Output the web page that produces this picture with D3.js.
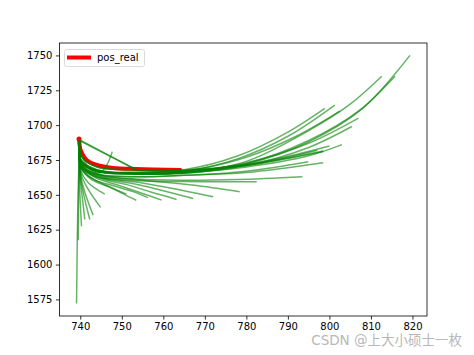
<!DOCTYPE html>
<html><head><meta charset="utf-8">
<script src="https://cdn.jsdelivr.net/npm/d3@7/dist/d3.min.js"></script>
<style>body{margin:0;background:#fff}svg{display:block}</style>
</head><body>
<svg id="c" width="474" height="355"></svg>
<script>
// ---- data ----
const xTicks = [740, 750, 760, 770, 780, 790, 800, 810, 820];
const yTicks = [1575, 1600, 1625, 1650, 1675, 1700, 1725, 1750];
const xLimits = [735, 823.5];
const yLimits = [1563.1, 1758.9];

const realX = [739.7, 740.1, 741.1, 742.3, 744.7, 747.9, 753.5, 764.4];
const realY = [1690, 1682, 1676.5, 1673.3, 1670.9, 1669.3, 1668.5, 1667.8];

// predicted trajectories (green), each a list of [x, y]
const predUp = [
  [[739.8,1688],[740.2,1675],[744,1668],[752,1665.5],[765,1665.5],[780,1672],[795,1688],[808,1712],[819.4,1750]],
  [[739.8,1688],[740.2,1675],[744,1668],[752,1665.5],[765,1666],[780,1672.5],[795,1689],[807,1710],[815.8,1735]],
  [[739.8,1688],[740.2,1674],[744,1667],[752,1665],[765,1666],[780,1674],[795,1696],[805,1715],[812.6,1735]],
  [[739.8,1688],[740.2,1674],[744,1667.5],[752,1665.5],[765,1667],[778,1676],[790,1692],[801.3,1714.4]],
  [[739.8,1688],[740.2,1674],[744,1667.5],[752,1666],[765,1668],[778,1678],[790,1695],[798.9,1712]],
  [[739.8,1688],[740.2,1674],[744,1667],[752,1665.5],[765,1667],[780,1677],[792,1692],[802.5,1710]],
  [[739.8,1688],[740.2,1674],[744,1667],[752,1665],[765,1666],[780,1673],[795,1687],[807,1705]],
  [[739.8,1688],[740.2,1674],[744,1667],[752,1665],[765,1665.5],[780,1671],[795,1684],[805.4,1699]],
  [[739.8,1688],[740.2,1673],[744,1666.5],[752,1665],[765,1666],[780,1670],[795,1678],[803,1686]],
  [[739.8,1688],[740.2,1673],[744,1667],[752,1666],[765,1667],[780,1672],[792,1679],[800,1685]],
  [[739.8,1689],[740.2,1678],[744,1670],[752,1668],[765,1667.5],[780,1671],[790,1676],[798.5,1681]],
  [[739.8,1689],[740.2,1678],[744,1670],[752,1668],[765,1667.8],[780,1671.5],[790,1676.5],[798.5,1681.5]],
  [[739.8,1688],[740.2,1674],[744,1667],[752,1666],[765,1667],[780,1671],[797.1,1682]],
  [[739.8,1688],[740.2,1672],[744,1665],[752,1663],[765,1664],[780,1666],[798.5,1673]],
  [[739.8,1688],[740.2,1672],[744,1665],[752,1663],[765,1664],[780,1667],[794.9,1673.7]],
  [[739.8,1688],[740.2,1671],[744,1664],[752,1661.5],[765,1660.5],[778,1661],[793.5,1663]],
  [[739.8,1688],[740.2,1670],[744,1663],[752,1660.5],[765,1659.5],[782.5,1659.4]]
];
const predDown = [
  [[739.8,1688],[740.3,1671],[745,1664],[755,1660.5],[767,1657],[778.4,1652.2]],
  [[739.8,1688],[740.3,1671],[745,1663],[755,1658.5],[765,1653],[772,1648.6]],
  [[739.8,1688],[740.3,1670],[744,1663],[752,1658.5],[760,1653],[767.2,1647.4]],
  [[739.8,1688],[740.3,1670],[744,1662.5],[751,1657.5],[757,1652],[763.2,1646.7]],
  [[739.8,1688],[740.3,1670],[743.5,1662.5],[749,1657],[755,1651],[759.6,1646.2]],
  [[739.8,1688],[740.3,1669],[743,1661.5],[748,1656.5],[752.5,1652.5],[756.3,1648]],
  [[739.8,1688],[740.3,1669],[742.5,1661.5],[747,1655.5],[750.5,1650.5],[753.5,1646]],
  [[739.8,1688],[740.3,1669],[742.5,1662.5],[746.5,1656.5],[751.1,1650.5]],
  [[739.8,1688],[740.2,1667],[742,1658.5],[745.9,1650.5]],
  [[739.8,1688],[740.2,1665],[742,1653.5],[744.9,1641]],
  [[739.8,1688],[740.1,1664],[741.3,1650],[743.1,1635.4]],
  [[739.8,1688],[740,1664],[741,1648],[742.3,1632.3]],
  [[739.8,1688],[739.9,1664],[740.5,1648],[741.1,1632.3]],
  [[739.8,1688],[739.8,1660],[740.3,1627.5]],
  [[739.8,1688],[739.6,1650],[739.5,1617.4]],
  [[739.8,1688],[739.4,1640],[739.1,1572]]
];
const predOther = [
  [[739.8,1689.5],[746.6,1678.8],[753.5,1668]],
  [[739.8,1689],[746.6,1678.5],[753.5,1668]],
  [[739.9,1684],[740.8,1675],[742.5,1668.5],[744.7,1665.8],[746.5,1672],[747.7,1681]]
];
const legendLabel = "pos_real";
const watermark = "CSDN @上大小硕士一枚";

// ---- drawing ----
const svg = d3.select("#c");
const L = 59.5, R = 427, T = 43, B = 316;
const x = d3.scaleLinear().domain(xLimits).range([L, R]);
const y = d3.scaleLinear().domain(yLimits).range([B, T]);
const font = "DejaVu Sans, sans-serif";

const clip = svg.append("clipPath").attr("id","clp").append("rect")
  .attr("x", L).attr("y", T).attr("width", R-L).attr("height", B-T);

const plot = svg.append("g").attr("clip-path","url(#clp)");
const lineGen = d3.line().x(d => x(d[0])).y(d => y(d[1])).curve(d3.curveCatmullRom.alpha(0.5));
const straight = d3.line().x(d => x(d[0])).y(d => y(d[1]));

// real trajectory
const realPts = realX.map((v,i) => [v, realY[i]]);
plot.append("path").datum(realPts).attr("d", lineGen)
  .attr("fill","none").attr("stroke","#ff0000").attr("stroke-width",4)
  .attr("stroke-linejoin","round");
plot.append("circle").attr("cx", x(realX[0])).attr("cy", y(realY[0])).attr("r", 2.5).attr("fill","#ff0000");

const allPred = predUp.concat(predDown);
plot.selectAll("path.pred").data(allPred).enter().append("path")
  .attr("class","pred").attr("d", lineGen)
  .attr("fill","none").attr("stroke","#008000").attr("stroke-opacity",0.6).attr("stroke-width",1.5);
plot.selectAll("path.oth").data(predOther).enter().append("path")
  .attr("class","oth").attr("d", (d,i) => i < 2 ? straight(d) : lineGen(d))
  .attr("fill","none").attr("stroke","#008000").attr("stroke-opacity",0.6).attr("stroke-width",1.5);

// axes
const xAxis = svg.append("g").attr("transform",`translate(0,${B})`)
  .call(d3.axisBottom(x).tickValues(xTicks).tickSize(3.6).tickPadding(3.5).tickFormat(d3.format("d")));
const yAxis = svg.append("g").attr("transform",`translate(${L},0)`)
  .call(d3.axisLeft(y).tickValues(yTicks).tickSize(3.6).tickPadding(3.5).tickFormat(d3.format("d")));
[xAxis, yAxis].forEach(a => {
  a.select(".domain").remove();
  a.selectAll("line").attr("stroke","#000").attr("stroke-width",0.8);
  a.selectAll("text").attr("font-family", font).attr("font-size", 10).attr("fill","#000");
});
svg.append("rect").attr("x",L).attr("y",T).attr("width",R-L).attr("height",B-T)
  .attr("fill","none").attr("stroke","#000").attr("stroke-width",0.8);

// legend
const lg = svg.append("g");
lg.append("rect").attr("x",64.5).attr("y",49.5).attr("width",80).attr("height",17).attr("rx",2)
  .attr("fill","#fff").attr("fill-opacity",0.8).attr("stroke","#d0d0d0").attr("stroke-width",0.8);
lg.append("line").attr("x1",67).attr("x2",91).attr("y1",57.5).attr("y2",57.5)
  .attr("stroke","#ff0000").attr("stroke-width",4);
lg.append("text").attr("x",97).attr("y",61.2).attr("font-family",font).attr("font-size",10)
  .attr("fill","#000").text(legendLabel);

// watermark
svg.append("text").attr("x",462).attr("y",345).attr("text-anchor","end")
  .attr("font-family","DejaVu Sans, 'Noto Sans CJK SC', sans-serif").attr("font-size",13.5)
  .attr("fill","#b8b8b8").text(watermark);
</script>
</body></html>
